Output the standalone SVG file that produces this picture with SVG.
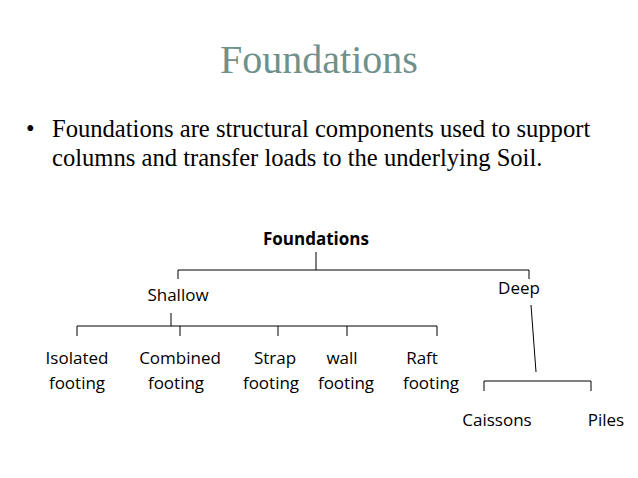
<svg xmlns="http://www.w3.org/2000/svg" width="638" height="478" viewBox="0 0 638 478">
<style>
.t{font-family:"Open Sans","Liberation Sans",Arial,sans-serif;font-size:17px;fill:#000;text-anchor:middle}
.s{font-family:"Liberation Serif","Times New Roman",serif;font-size:24.6px;fill:#000}
line{stroke:#000;stroke-width:1}
</style>
<rect width="638" height="478" fill="#fff"/>
<text x="319" y="73" font-family="Liberation Serif,serif" font-size="40" fill="#6f918b" text-anchor="middle">Foundations</text>
<text class="s" x="26" y="137">•</text>
<text class="s" x="52" y="137">Foundations are structural components used to support</text>
<text class="s" x="52" y="166">columns and transfer loads to the underlying Soil.</text>
<g id="connectors">
<line x1="316" y1="252" x2="316" y2="270"/>
<line x1="178" y1="270" x2="529" y2="270"/>
<line x1="178" y1="270" x2="178" y2="279"/>
<line x1="529" y1="270" x2="529" y2="279"/>
<line x1="171" y1="313" x2="171" y2="326"/>
<line x1="77" y1="326" x2="437" y2="326"/>
<line x1="77" y1="326" x2="77" y2="336"/>
<line x1="180" y1="326" x2="180" y2="336"/>
<line x1="278" y1="326" x2="278" y2="336"/>
<line x1="347" y1="326" x2="347" y2="336"/>
<line x1="437" y1="326" x2="437" y2="336"/>
<line x1="531" y1="305" x2="536" y2="372"/>
<line x1="484" y1="381" x2="591" y2="381"/>
<line x1="484" y1="381" x2="484" y2="391"/>
<line x1="591" y1="381" x2="591" y2="391"/>
</g>
<g id="n-root"><text class="t" x="316" y="245" font-weight="bold" font-size="20">Foundations</text></g>
<g id="n-shallow"><text class="t" x="178" y="301">Shallow</text></g>
<g id="n-deep"><text class="t" x="519" y="294">Deep</text></g>
<g id="n-isolated"><text class="t" x="77" y="364">Isolated</text><text class="t" x="77" y="389">footing</text></g>
<g id="n-combined"><text class="t" x="180" y="364">Combined</text><text class="t" x="176" y="389">footing</text></g>
<g id="n-strap"><text class="t" x="275" y="364">Strap</text><text class="t" x="271" y="389">footing</text></g>
<g id="n-wall"><text class="t" x="342" y="364">wall</text><text class="t" x="346" y="389">footing</text></g>
<g id="n-raft"><text class="t" x="422" y="364">Raft</text><text class="t" x="431" y="389">footing</text></g>
<g id="n-caissons"><text class="t" x="497" y="426">Caissons</text></g>
<g id="n-piles"><text class="t" x="606" y="426">Piles</text></g>
</svg>
